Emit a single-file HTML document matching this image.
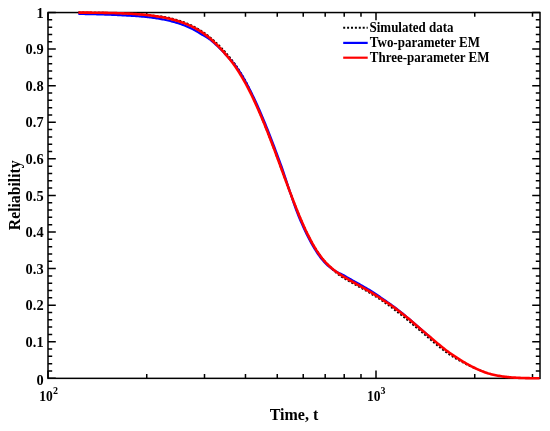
<!DOCTYPE html>
<html><head><meta charset="utf-8"><style>
html,body{margin:0;padding:0;background:#fff;}
body{width:550px;height:431px;overflow:hidden;}
svg{display:block;filter:blur(0.3px);}
</style></head><body>
<svg width="550" height="431" viewBox="0 0 550 431">
<rect width="550" height="431" fill="#fff"/>

<path d="M48.00,378.30h7.8 M540.00,378.30h-7.8 M48.00,370.99h4.2 M540.00,370.99h-4.2 M48.00,363.67h4.2 M540.00,363.67h-4.2 M48.00,356.36h4.2 M540.00,356.36h-4.2 M48.00,349.04h4.2 M540.00,349.04h-4.2 M48.00,341.73h7.8 M540.00,341.73h-7.8 M48.00,334.41h4.2 M540.00,334.41h-4.2 M48.00,327.10h4.2 M540.00,327.10h-4.2 M48.00,319.78h4.2 M540.00,319.78h-4.2 M48.00,312.47h4.2 M540.00,312.47h-4.2 M48.00,305.15h7.8 M540.00,305.15h-7.8 M48.00,297.84h4.2 M540.00,297.84h-4.2 M48.00,290.52h4.2 M540.00,290.52h-4.2 M48.00,283.20h4.2 M540.00,283.20h-4.2 M48.00,275.89h4.2 M540.00,275.89h-4.2 M48.00,268.57h7.8 M540.00,268.57h-7.8 M48.00,261.26h4.2 M540.00,261.26h-4.2 M48.00,253.94h4.2 M540.00,253.94h-4.2 M48.00,246.63h4.2 M540.00,246.63h-4.2 M48.00,239.31h4.2 M540.00,239.31h-4.2 M48.00,232.00h7.8 M540.00,232.00h-7.8 M48.00,224.69h4.2 M540.00,224.69h-4.2 M48.00,217.37h4.2 M540.00,217.37h-4.2 M48.00,210.06h4.2 M540.00,210.06h-4.2 M48.00,202.74h4.2 M540.00,202.74h-4.2 M48.00,195.43h7.8 M540.00,195.43h-7.8 M48.00,188.11h4.2 M540.00,188.11h-4.2 M48.00,180.79h4.2 M540.00,180.79h-4.2 M48.00,173.48h4.2 M540.00,173.48h-4.2 M48.00,166.17h4.2 M540.00,166.17h-4.2 M48.00,158.85h7.8 M540.00,158.85h-7.8 M48.00,151.54h4.2 M540.00,151.54h-4.2 M48.00,144.22h4.2 M540.00,144.22h-4.2 M48.00,136.91h4.2 M540.00,136.91h-4.2 M48.00,129.59h4.2 M540.00,129.59h-4.2 M48.00,122.27h7.8 M540.00,122.27h-7.8 M48.00,114.96h4.2 M540.00,114.96h-4.2 M48.00,107.64h4.2 M540.00,107.64h-4.2 M48.00,100.33h4.2 M540.00,100.33h-4.2 M48.00,93.01h4.2 M540.00,93.01h-4.2 M48.00,85.70h7.8 M540.00,85.70h-7.8 M48.00,78.38h4.2 M540.00,78.38h-4.2 M48.00,71.07h4.2 M540.00,71.07h-4.2 M48.00,63.76h4.2 M540.00,63.76h-4.2 M48.00,56.44h4.2 M540.00,56.44h-4.2 M48.00,49.12h7.8 M540.00,49.12h-7.8 M48.00,41.81h4.2 M540.00,41.81h-4.2 M48.00,34.49h4.2 M540.00,34.49h-4.2 M48.00,27.18h4.2 M540.00,27.18h-4.2 M48.00,19.87h4.2 M540.00,19.87h-4.2 M48.00,12.55h7.8 M540.00,12.55h-7.8 M48.00,378.30v-7.8 M48.00,12.55v7.8 M146.74,378.30v-4.2 M146.74,12.55v4.2 M204.50,378.30v-4.2 M204.50,12.55v4.2 M245.48,378.30v-4.2 M245.48,12.55v4.2 M277.26,378.30v-4.2 M277.26,12.55v4.2 M303.23,378.30v-4.2 M303.23,12.55v4.2 M325.19,378.30v-4.2 M325.19,12.55v4.2 M344.21,378.30v-4.2 M344.21,12.55v4.2 M360.99,378.30v-4.2 M360.99,12.55v4.2 M376.00,378.30v-7.8 M376.00,12.55v7.8 M474.74,378.30v-4.2 M474.74,12.55v4.2 M532.50,378.30v-4.2 M532.50,12.55v4.2" stroke="#000" stroke-width="1.5" fill="none"/>
<rect x="48.0" y="12.55" width="492.0" height="365.8" fill="none" stroke="#000" stroke-width="1.5"/>
<g fill="none" stroke-linejoin="round">
<path d="M78.40,12.60 L79.56,12.60 L80.71,12.61 L81.87,12.61 L83.02,12.62 L84.18,12.63 L85.34,12.63 L86.49,12.64 L87.65,12.65 L88.80,12.66 L89.96,12.67 L91.11,12.67 L92.27,12.69 L93.43,12.70 L94.58,12.71 L95.74,12.72 L96.89,12.73 L98.05,12.75 L99.21,12.76 L100.36,12.78 L101.52,12.80 L102.67,12.82 L103.83,12.84 L104.99,12.86 L106.14,12.88 L107.30,12.90 L108.45,12.93 L109.61,12.95 L110.76,12.98 L111.92,13.01 L113.08,13.04 L114.23,13.07 L115.39,13.10 L116.54,13.14 L117.70,13.18 L118.86,13.21 L120.01,13.26 L121.17,13.30 L122.32,13.35 L123.48,13.39 L124.64,13.44 L125.79,13.50 L126.95,13.55 L128.10,13.61 L129.26,13.67 L130.42,13.74 L131.57,13.80 L132.73,13.87 L133.88,13.95 L135.04,14.02 L136.19,14.10 L137.35,14.19 L138.51,14.28 L139.66,14.37 L140.82,14.47 L141.97,14.57 L143.13,14.67 L144.29,14.78 L145.44,14.90 L146.60,15.02 L147.75,15.14 L148.91,15.27 L150.07,15.41 L151.22,15.54 L152.38,15.65 L153.55,15.76 L154.71,15.86 L155.88,15.95 L157.05,16.05 L158.22,16.16 L159.39,16.27 L160.56,16.39 L161.73,16.54 L162.90,16.70 L164.07,16.89 L165.23,17.11 L166.39,17.34 L167.56,17.59 L168.72,17.84 L169.88,18.11 L171.04,18.39 L172.21,18.68 L173.37,18.98 L174.53,19.29 L175.70,19.62 L176.86,19.95 L178.03,20.30 L179.19,20.67 L180.35,21.05 L181.52,21.44 L182.68,21.85 L183.85,22.27 L185.01,22.71 L186.18,23.17 L187.34,23.64 L188.51,24.14 L189.68,24.66 L190.84,25.19 L192.01,25.75 L193.18,26.33 L194.34,26.93 L195.51,27.55 L196.67,28.20 L197.84,28.86 L199.01,29.55 L200.17,30.26 L201.34,31.00 L202.51,31.76 L203.68,32.55 L204.84,33.36 L206.01,34.21 L207.18,35.08 L208.35,35.99 L209.52,36.93 L210.69,37.90 L211.87,38.92 L213.05,39.99 L214.23,41.08 L215.41,42.18 L216.59,43.27 L217.77,44.38 L218.96,45.52 L220.15,46.70 L221.33,47.91 L222.52,49.15 L223.70,50.43 L224.87,51.75 L226.03,53.08 L227.19,54.42 L228.35,55.78 L229.51,57.17 L230.68,58.58 L231.84,60.04 L233.01,61.55 L234.18,63.11 L235.34,64.74 L236.51,66.43 L237.67,68.16 L238.84,69.94 L240.00,71.76 L241.16,73.63 L242.32,75.55 L243.48,77.52 L244.62,79.55 L245.74,81.64 L246.84,83.80 L247.93,86.00 L249.01,88.27 L250.08,90.58 L251.15,92.93 L252.23,95.33 L253.31,97.77 L254.41,100.25 L255.51,102.76 L256.63,105.32 L257.74,107.92 L258.85,110.56 L259.97,113.24 L261.09,115.96 L262.22,118.72 L263.35,121.51 L264.50,124.33 L265.65,127.19 L266.81,130.08 L267.97,133.01 L269.12,135.96 L270.28,138.95 L271.43,141.96 L272.59,145.00 L273.75,148.06 L274.90,151.15 L276.06,154.25 L277.21,157.36 L278.37,160.49 L279.52,163.63 L280.68,166.78 L281.84,169.93 L282.99,173.09 L284.15,176.24 L285.30,179.38 L286.46,182.52 L287.62,185.64 L288.77,188.75 L289.93,191.84 L291.08,194.91 L292.24,197.95 L293.40,200.96 L294.55,203.94 L295.71,206.88 L296.86,209.78 L298.02,212.64 L299.17,215.45 L300.33,218.21 L301.49,220.92 L302.64,223.58 L303.80,226.18 L304.95,228.71 L306.11,231.19 L307.27,233.59 L308.42,235.94 L309.58,238.21 L310.73,240.41 L311.89,242.54 L313.05,244.60 L314.20,246.59 L315.36,248.50 L316.51,250.35 L317.67,252.11 L318.83,253.81 L319.98,255.43 L321.14,256.99 L322.29,258.47 L323.45,259.89 L324.60,261.24 L325.76,262.53 L326.92,263.76 L328.07,264.92 L329.23,266.04 L330.38,267.10 L331.49,268.15 L332.57,269.21 L333.63,270.26 L334.68,271.29 L335.73,272.29 L336.80,273.26 L337.89,274.17 L339.02,275.01 L340.18,275.79 L341.35,276.54 L342.51,277.28 L343.68,278.00 L344.84,278.71 L346.01,279.40 L347.17,280.08 L348.34,280.75 L349.50,281.40 L350.66,282.04 L351.81,282.68 L352.97,283.32 L354.12,283.96 L355.28,284.60 L356.43,285.25 L357.59,285.89 L358.74,286.54 L359.90,287.19 L361.05,287.84 L362.21,288.50 L363.36,289.15 L364.52,289.80 L365.67,290.46 L366.82,291.12 L367.97,291.79 L369.12,292.47 L370.27,293.16 L371.43,293.85 L372.58,294.55 L373.73,295.26 L374.88,295.98 L376.03,296.71 L377.18,297.44 L378.33,298.19 L379.48,298.94 L380.64,299.71 L381.79,300.48 L382.93,301.25 L384.07,302.03 L385.20,302.82 L386.33,303.62 L387.46,304.42 L388.59,305.24 L389.71,306.06 L390.84,306.90 L391.96,307.74 L393.08,308.60 L394.21,309.47 L395.34,310.34 L396.48,311.22 L397.62,312.11 L398.76,312.99 L399.91,313.87 L401.06,314.77 L402.21,315.67 L403.36,316.58 L404.51,317.50 L405.66,318.43 L406.81,319.37 L407.96,320.32 L409.11,321.28 L410.27,322.24 L411.42,323.22 L412.57,324.19 L413.73,325.17 L414.88,326.16 L416.04,327.14 L417.19,328.13 L418.35,329.12 L419.50,330.11 L420.66,331.11 L421.81,332.10 L422.97,333.10 L424.12,334.09 L425.28,335.09 L426.44,336.08 L427.59,337.07 L428.75,338.06 L429.91,339.05 L431.07,340.03 L432.23,341.01 L433.38,341.99 L434.54,342.96 L435.70,343.93 L436.86,344.89 L438.02,345.85 L439.18,346.80 L440.35,347.74 L441.51,348.66 L442.68,349.58 L443.85,350.49 L445.03,351.38 L446.22,352.25 L447.40,353.09 L448.59,353.92 L449.77,354.72 L450.96,355.50 L452.14,356.27 L453.33,357.02 L454.51,357.75 L455.70,358.46 L456.90,359.15 L458.11,359.81 L459.32,360.46 L460.53,361.10 L461.73,361.74 L462.94,362.38 L464.14,363.01 L465.34,363.63 L466.53,364.24 L467.73,364.83 L468.92,365.41 L470.12,365.97 L471.30,366.51 L472.49,367.05 L473.67,367.57 L474.85,368.08 L476.02,368.59 L477.18,369.10 L478.34,369.62 L479.49,370.13 L480.65,370.62 L481.81,371.10 L482.96,371.56 L484.12,372.00" stroke="#000" stroke-width="2" stroke-dasharray="2 1.9"/>
<path d="M78.39,13.90 L79.55,13.92 L80.71,13.94 L81.86,13.97 L83.02,13.99 L84.17,14.01 L85.33,14.03 L86.48,14.06 L87.64,14.08 L88.79,14.10 L89.95,14.13 L91.10,14.15 L92.26,14.18 L93.41,14.21 L94.57,14.24 L95.72,14.26 L96.88,14.29 L98.03,14.32 L99.18,14.35 L100.34,14.39 L101.49,14.42 L102.65,14.45 L103.80,14.49 L104.95,14.53 L106.11,14.57 L107.26,14.62 L108.42,14.66 L109.57,14.71 L110.72,14.75 L111.87,14.80 L113.03,14.85 L114.18,14.91 L115.33,14.96 L116.49,15.01 L117.64,15.07 L118.79,15.12 L119.94,15.18 L121.09,15.24 L122.24,15.30 L123.40,15.36 L124.55,15.42 L125.70,15.48 L126.85,15.54 L128.00,15.60 L129.15,15.67 L130.30,15.73 L131.45,15.80 L132.60,15.87 L133.75,15.94 L134.90,16.02 L136.05,16.10 L137.20,16.18 L138.35,16.27 L139.50,16.36 L140.65,16.46 L141.80,16.56 L142.94,16.66 L144.09,16.77 L145.24,16.89 L146.39,17.01 L147.53,17.13 L148.68,17.26 L149.83,17.39 L150.97,17.53 L152.12,17.68 L153.26,17.83 L154.41,17.99 L155.55,18.16 L156.70,18.33 L157.84,18.51 L158.98,18.70 L160.13,18.89 L161.27,19.10 L162.41,19.31 L163.55,19.53 L164.69,19.75 L165.83,19.99 L166.97,20.24 L168.11,20.49 L169.25,20.76 L170.39,21.03 L171.53,21.32 L172.67,21.62 L173.81,21.93 L174.94,22.25 L176.08,22.58 L177.22,22.92 L178.35,23.28 L179.49,23.65 L180.62,24.04 L181.76,24.43 L182.89,24.85 L184.02,25.28 L185.15,25.72 L186.28,26.18 L187.41,26.66 L188.54,27.16 L189.67,27.69 L190.80,28.23 L191.93,28.79 L193.06,29.37 L194.19,29.98 L195.32,30.60 L196.45,31.25 L197.58,31.92 L198.71,32.61 L199.85,33.31 L201.01,34.00 L202.20,34.69 L203.40,35.38 L204.62,36.09 L205.85,36.82 L207.08,37.59 L208.32,38.39 L209.55,39.24 L210.76,40.15 L211.96,41.15 L213.15,42.20 L214.35,43.27 L215.55,44.34 L216.74,45.43 L217.93,46.54 L219.11,47.69 L220.31,48.87 L221.50,50.08 L222.69,51.32 L223.89,52.60 L225.09,53.89 L226.29,55.20 L227.49,56.51 L228.70,57.84 L229.92,59.19 L231.16,60.58 L232.41,62.00 L233.67,63.49 L234.92,65.04 L236.17,66.66 L237.40,68.34 L238.62,70.08 L239.82,71.88 L240.99,73.74 L242.15,75.66 L243.31,77.62 L244.47,79.64 L245.64,81.70 L246.80,83.82 L247.96,85.99 L249.12,88.21 L250.27,90.48 L251.43,92.80 L252.59,95.16 L253.75,97.56 L254.91,100.01 L256.07,102.51 L257.23,105.05 L258.39,107.63 L259.54,110.26 L260.70,112.93 L261.86,115.63 L263.02,118.38 L264.17,121.17 L265.33,123.99 L266.49,126.86 L267.65,129.75 L268.80,132.68 L269.96,135.64 L271.12,138.63 L272.27,141.64 L273.43,144.68 L274.59,147.75 L275.74,150.83 L276.90,153.93 L278.06,157.05 L279.21,160.18 L280.37,163.32 L281.52,166.47 L282.63,169.64 L283.71,172.82 L284.76,176.01 L285.79,179.20 L286.82,182.38 L287.85,185.56 L288.88,188.71 L289.93,191.84 L290.99,194.94 L292.04,198.02 L293.08,201.08 L294.12,204.10 L295.17,207.09 L296.24,210.03 L297.33,212.92 L298.45,215.75 L299.59,218.53 L300.75,221.24 L301.91,223.90 L303.07,226.50 L304.23,229.05 L305.39,231.53 L306.55,233.94 L307.71,236.29 L308.87,238.58 L310.03,240.79 L311.19,242.93 L312.35,245.00 L313.51,247.00 L314.68,248.92 L315.84,250.78 L317.00,252.56 L318.17,254.27 L319.33,255.90 L320.50,257.47 L321.67,258.97 L322.83,260.40 L324.00,261.77 L325.18,263.07 L326.37,264.28 L327.59,265.41 L328.82,266.47 L330.06,267.46 L331.30,268.38 L332.54,269.25 L333.78,270.07 L335.01,270.85 L336.24,271.58 L337.50,272.26 L338.76,272.90 L340.03,273.51 L341.28,274.11 L342.52,274.71 L343.74,275.33 L344.93,275.97 L346.08,276.65 L347.23,277.33 L348.37,278.00 L349.52,278.66 L350.66,279.30 L351.82,279.94 L352.97,280.59 L354.13,281.23 L355.28,281.88 L356.44,282.52 L357.59,283.17 L358.75,283.82 L359.90,284.48 L361.06,285.14 L362.21,285.79 L363.36,286.45 L364.52,287.11 L365.67,287.77 L366.83,288.44 L367.98,289.12 L369.14,289.80 L370.30,290.49 L371.45,291.19 L372.60,291.91 L373.75,292.64 L374.89,293.39 L376.03,294.15 L377.17,294.92 L378.30,295.70 L379.43,296.49 L380.57,297.29 L381.70,298.09 L382.83,298.89 L383.96,299.68 L385.10,300.46 L386.24,301.25 L387.38,302.04 L388.53,302.84 L389.67,303.65 L390.82,304.46 L391.97,305.28 L393.11,306.12 L394.26,306.97 L395.41,307.84 L396.55,308.72 L397.70,309.60 L398.84,310.50 L399.98,311.40 L401.13,312.31 L402.27,313.23 L403.41,314.16 L404.55,315.09 L405.68,316.04 L406.82,317.00 L407.96,317.97 L409.10,318.95 L410.23,319.94 L411.37,320.93 L412.51,321.92 L413.65,322.92 L414.79,323.92 L415.94,324.92 L417.09,325.91 L418.24,326.91 L419.39,327.91 L420.54,328.90 L421.70,329.90 L422.86,330.89 L424.01,331.88 L425.17,332.88 L426.32,333.87 L427.48,334.87 L428.63,335.86 L429.79,336.84 L430.95,337.83" stroke="#0000ff" stroke-width="2.2"/>
<path d="M78.40,12.60 L79.56,12.60 L80.71,12.61 L81.87,12.61 L83.02,12.62 L84.18,12.63 L85.34,12.63 L86.49,12.64 L87.65,12.65 L88.80,12.66 L89.96,12.67 L91.11,12.67 L92.27,12.69 L93.43,12.70 L94.58,12.71 L95.74,12.72 L96.89,12.73 L98.05,12.75 L99.21,12.76 L100.36,12.78 L101.52,12.80 L102.67,12.82 L103.83,12.84 L104.99,12.86 L106.14,12.88 L107.30,12.90 L108.45,12.93 L109.61,12.95 L110.76,12.98 L111.92,13.01 L113.08,13.04 L114.23,13.07 L115.39,13.10 L116.54,13.14 L117.70,13.18 L118.86,13.21 L120.01,13.26 L121.17,13.30 L122.32,13.35 L123.48,13.39 L124.64,13.44 L125.79,13.50 L126.95,13.55 L128.10,13.61 L129.26,13.67 L130.42,13.74 L131.57,13.80 L132.73,13.87 L133.88,13.95 L135.04,14.02 L136.19,14.10 L137.35,14.19 L138.51,14.28 L139.66,14.37 L140.82,14.47 L141.97,14.57 L143.13,14.67 L144.29,14.78 L145.44,14.90 L146.60,15.02 L147.75,15.14 L148.91,15.27 L150.07,15.41 L151.22,15.55 L152.38,15.70 L153.53,15.85 L154.69,16.01 L155.84,16.18 L157.00,16.36 L158.16,16.54 L159.31,16.73 L160.47,16.92 L161.62,17.13 L162.78,17.34 L163.94,17.56 L165.09,17.79 L166.25,18.03 L167.40,18.28 L168.56,18.54 L169.72,18.81 L170.87,19.09 L172.03,19.38 L173.18,19.68 L174.34,20.00 L175.49,20.32 L176.65,20.66 L177.81,21.01 L178.96,21.38 L180.12,21.75 L181.27,22.15 L182.43,22.55 L183.59,22.97 L184.74,23.41 L185.90,23.86 L187.05,24.34 L188.21,24.83 L189.37,25.34 L190.52,25.88 L191.68,26.43 L192.83,27.01 L193.99,27.60 L195.14,28.22 L196.30,28.86 L197.46,29.52 L198.61,30.21 L199.77,30.91 L200.92,31.64 L202.08,32.40 L203.24,33.19 L204.39,34.00 L205.55,34.84 L206.70,35.71 L207.86,36.61 L209.02,37.54 L210.17,38.51 L211.33,39.52 L212.48,40.59 L213.64,41.69 L214.79,42.81 L215.95,43.93 L217.11,45.05 L218.26,46.21 L219.42,47.40 L220.57,48.62 L221.73,49.87 L222.89,51.15 L224.04,52.47 L225.20,53.80 L226.35,55.14 L227.51,56.49 L228.67,57.87 L229.82,59.28 L230.98,60.72 L232.13,62.22 L233.29,63.76 L234.45,65.37 L235.60,67.05 L236.76,68.77 L237.91,70.54 L239.07,72.35 L240.22,74.21 L241.38,76.12 L242.54,78.07 L243.69,80.08 L244.85,82.14 L246.00,84.25 L247.16,86.41 L248.32,88.62 L249.47,90.89 L250.63,93.20 L251.78,95.55 L252.94,97.95 L254.10,100.40 L255.25,102.89 L256.41,105.42 L257.56,108.00 L258.72,110.62 L259.87,113.28 L261.03,115.99 L262.19,118.73 L263.34,121.51 L264.50,124.33 L265.65,127.19 L266.81,130.08 L267.97,133.01 L269.12,135.96 L270.28,138.95 L271.43,141.96 L272.59,145.00 L273.75,148.06 L274.90,151.15 L276.06,154.25 L277.21,157.36 L278.37,160.49 L279.52,163.63 L280.68,166.78 L281.84,169.93 L282.99,173.09 L284.15,176.24 L285.30,179.38 L286.46,182.52 L287.62,185.64 L288.77,188.75 L289.93,191.84 L291.08,194.91 L292.24,197.95 L293.40,200.96 L294.55,203.94 L295.71,206.88 L296.86,209.78 L298.02,212.64 L299.17,215.45 L300.33,218.21 L301.49,220.92 L302.64,223.58 L303.80,226.18 L304.95,228.71 L306.11,231.19 L307.27,233.59 L308.42,235.94 L309.58,238.21 L310.73,240.41 L311.89,242.54 L313.05,244.60 L314.20,246.59 L315.36,248.50 L316.51,250.35 L317.67,252.11 L318.83,253.81 L319.98,255.43 L321.14,256.99 L322.29,258.47 L323.45,259.89 L324.60,261.24 L325.76,262.53 L326.92,263.76 L328.07,264.92 L329.23,266.04 L330.38,267.09 L331.54,268.10 L332.70,269.06 L333.85,269.98 L335.01,270.85 L336.16,271.69 L337.32,272.52 L338.48,273.32 L339.63,274.10 L340.79,274.87 L341.94,275.62 L343.10,276.35 L344.25,277.06 L345.41,277.77 L346.57,278.45 L347.72,279.13 L348.88,279.79 L350.03,280.44 L351.19,281.08 L352.35,281.72 L353.50,282.36 L354.66,283.00 L355.81,283.64 L356.97,284.29 L358.13,284.93 L359.28,285.58 L360.44,286.23 L361.59,286.89 L362.75,287.54 L363.90,288.19 L365.06,288.85 L366.22,289.51 L367.37,290.17 L368.53,290.84 L369.68,291.52 L370.84,292.21 L372.00,292.91 L373.15,293.61 L374.31,294.33 L375.46,295.05 L376.62,295.78 L377.78,296.52 L378.93,297.27 L380.09,298.02 L381.24,298.78 L382.40,299.54 L383.55,300.30 L384.71,301.06 L385.87,301.82 L387.02,302.59 L388.18,303.36 L389.33,304.14 L390.49,304.94 L391.65,305.74 L392.80,306.56 L393.96,307.39 L395.11,308.24 L396.27,309.10 L397.43,309.96 L398.58,310.84 L399.74,311.72 L400.89,312.61 L402.05,313.51 L403.21,314.41 L404.36,315.33 L405.52,316.25 L406.67,317.19 L407.83,318.13 L408.98,319.08 L410.14,320.05 L411.30,321.02 L412.45,321.99 L413.61,322.97 L414.76,323.95 L415.92,324.94 L417.08,325.93 L418.23,326.92 L419.39,327.91 L420.54,328.90 L421.70,329.90 L422.86,330.89 L424.01,331.88 L425.17,332.88 L426.32,333.87 L427.48,334.87 L428.63,335.86 L429.79,336.84 L430.95,337.83 L432.10,338.81 L433.26,339.79 L434.41,340.77 L435.57,341.74 L436.73,342.70 L437.88,343.66 L439.04,344.61 L440.19,345.56 L441.35,346.49 L442.51,347.42 L443.66,348.35 L444.82,349.26 L445.97,350.16 L447.13,351.03 L448.28,351.89 L449.44,352.73 L450.60,353.55 L451.75,354.35 L452.91,355.13 L454.06,355.91 L455.22,356.67 L456.38,357.42 L457.53,358.16 L458.69,358.89 L459.84,359.62 L461.00,360.34 L462.16,361.06 L463.31,361.77 L464.47,362.47 L465.62,363.15 L466.78,363.81 L467.93,364.46 L469.09,365.10 L470.25,365.72 L471.40,366.32 L472.56,366.91 L473.71,367.48 L474.87,368.03 L476.03,368.57 L477.18,369.10 L478.34,369.62 L479.49,370.13 L480.65,370.62 L481.81,371.10 L482.96,371.56 L484.12,372.00 L485.27,372.42 L486.43,372.82 L487.58,373.20 L488.74,373.55 L489.90,373.87 L491.05,374.18 L492.21,374.47 L493.36,374.74 L494.52,375.00 L495.68,375.24 L496.83,375.47 L497.99,375.69 L499.14,375.90 L500.30,376.09 L501.46,376.27 L502.61,376.44 L503.77,376.60 L504.92,376.75 L506.08,376.89 L507.24,377.01 L508.39,377.13 L509.55,377.24 L510.70,377.34 L511.86,377.44 L513.01,377.52 L514.17,377.60 L515.33,377.67 L516.48,377.74 L517.64,377.80 L518.79,377.86 L519.95,377.91 L521.11,377.95 L522.26,377.99 L523.42,378.03 L524.57,378.06 L525.73,378.09 L526.89,378.12 L528.04,378.14 L529.20,378.16 L530.35,378.18 L531.51,378.20 L532.66,378.21 L533.82,378.22 L534.98,378.23 L536.13,378.24 L537.29,378.25 L538.44,378.26 L539.60,378.27" stroke="#ff0000" stroke-width="2.6"/>
</g>
<g font-family="'Liberation Serif', serif" font-weight="bold" font-size="14.4" fill="#000">
<text x="43.6" y="384.50" text-anchor="end">0</text><text x="43.6" y="346.93" text-anchor="end">0.1</text><text x="43.6" y="310.35" text-anchor="end">0.2</text><text x="43.6" y="273.77" text-anchor="end">0.3</text><text x="43.6" y="237.20" text-anchor="end">0.4</text><text x="43.6" y="200.62" text-anchor="end">0.5</text><text x="43.6" y="164.05" text-anchor="end">0.6</text><text x="43.6" y="127.48" text-anchor="end">0.7</text><text x="43.6" y="90.90" text-anchor="end">0.8</text><text x="43.6" y="54.32" text-anchor="end">0.9</text><text x="43.6" y="17.75" text-anchor="end">1</text>
<text transform="translate(39.3,401.2) scale(0.94,1)">10</text><text x="53.1" y="393.8" font-size="10">2</text>
<text transform="translate(367.1,401.2) scale(0.94,1)">10</text><text x="380.4" y="393.8" font-size="10">3</text>
</g>
<g font-family="'Liberation Serif', serif" font-weight="bold" font-size="16" fill="#000">
<text x="294" y="419.5" text-anchor="middle">Time, t</text>
<text transform="translate(19.9,195.3) rotate(-90)" text-anchor="middle" font-size="15.7">Reliability</text>
</g>
<g fill="none">
<path d="M343.2,27.8H367.7" stroke="#000" stroke-width="2" stroke-dasharray="2 1.9"/>
<path d="M343.2,42.9H367.7" stroke="#0000ff" stroke-width="2.2"/>
<path d="M343.2,57.7H367.7" stroke="#ff0000" stroke-width="2.2"/>
</g>
<g font-family="'Liberation Serif', serif" font-weight="bold" font-size="13" fill="#000">
<text transform="translate(369.5,32.3) scale(1,1.08)">Simulated data</text>
<text transform="translate(369.8,47.4) scale(1,1.08)">Two-parameter EM</text>
<text transform="translate(369.8,62.3) scale(1,1.08)">Three-parameter EM</text>
</g>
</svg>
</body></html>
